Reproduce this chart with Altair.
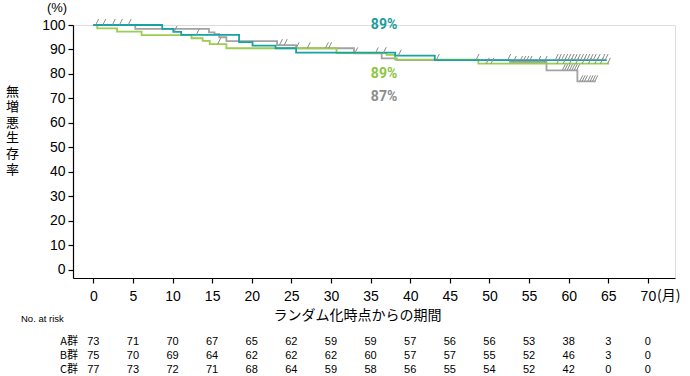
import altair as alt
import pandas as pd

# Kaplan-Meier step curves (time in months, survival %)
teal_t = [0, 8.7, 10.1, 11.1, 18.4, 20.1, 23.0, 25.6, 38.1, 43.1, 64.8]
teal_s = [100, 98.4, 97.2, 96.0, 93.0, 91.6, 90.5, 88.7, 87.5, 85.7, 85.7]
green_t = [0, 0.5, 3.0, 6.1, 12.4, 13.8, 14.7, 16.8, 30.7, 37.0, 38.1, 48.6, 65.1]
green_s = [100, 98.6, 97.3, 95.9, 94.6, 93.5, 92.2, 90.5, 88.5, 87.8, 85.9, 84.2, 84.2]
gray_t = [0, 5.3, 14.6, 15.3, 15.9, 16.8, 23.2, 25.6, 32.9, 36.4, 38.3, 52.6, 57.2, 61.1, 63.4]
gray_s = [100, 98.4, 97.0, 96.3, 95.0, 93.4, 91.8, 90.5, 88.4, 86.4, 85.7, 84.9, 81.5, 77.0, 77.0]

# censoring times
teal_c = [0.3, 1.2, 2.4, 3.3, 4.4, 10.2, 13.0, 38.5, 43.3, 48.3, 58.3, 58.7, 59.1, 59.5,
          59.9, 60.3, 60.7, 61.1, 61.5, 61.9, 62.3, 62.7, 63.1, 63.6, 64.2, 64.6]
green_c = [15.7, 29.3, 29.7, 36.6, 49.6, 50.2, 58.5, 59.3, 60.1, 60.9, 61.7, 62.5, 63.3,
           64.0, 64.9]
gray_c = [23.5, 24.1, 25.6, 27.0, 33.0, 35.6, 52.3, 53.0, 53.8, 54.2, 54.6, 55.0, 56.1,
          56.9, 59.2, 59.5, 59.8, 60.1, 60.4, 60.7, 61.0, 61.4, 61.7, 62.0, 62.4, 62.7,
          63.0, 63.3]

# final percentages
pct_labels = ["89%", "89%", "87%"]
pct_y = [100, 80, 70.6]
pct_x = 36.7

# number at risk
risk_times = [0, 5, 10, 15, 20, 25, 30, 35, 40, 45, 50, 55, 60, 65, 70]
risk_A = [73, 71, 70, 67, 65, 62, 59, 59, 57, 56, 56, 53, 38, 3, 0]
risk_B = [75, 70, 69, 64, 62, 62, 62, 60, 57, 57, 55, 52, 46, 3, 0]
risk_C = [77, 73, 72, 71, 68, 64, 59, 58, 56, 55, 54, 52, 42, 0, 0]
groups = ["A群", "B群", "C群"]

TEAL, GREEN, GRAY = "#17a2a5", "#9acd50", "#a3a3a3"
TEAL_T, GREEN_T, GRAY_T = "#1a9c9e", "#8cc63f", "#8c8c8c"
CJK = "Noto Sans CJK JP"
LAT = "Liberation Sans"

xscale = alt.Scale(domain=[-2.56, 73.42], nice=False, zero=False)
yscale = alt.Scale(domain=[-3.27, 100], nice=False, zero=False)

xaxis = alt.Axis(values=list(range(0, 75, 5)), labelFontSize=14, labelFont=LAT,
                 labelColor="black", tickSize=5, tickColor="black", domainColor="black",
                 domainWidth=1.2, tickWidth=1.2, labelPadding=6, grid=False, labelFlush=False,
                 labelOverlap=False,
                 title="ランダム化時点からの期間", titleFont=CJK, titleFontSize=14,
                 titleFontWeight="normal", titleColor="black", titleX=284, titleY=37,
                 titleBaseline="middle", titleAlign="center")
yaxis = alt.Axis(values=list(range(0, 101, 10)), labelFontSize=14, labelFont=LAT,
                 labelColor="black", tickSize=5, tickColor="black", domainColor="black",
                 domainWidth=1.2, tickWidth=1.2, labelPadding=3, grid=False,
                 labelOverlap=False, tickCount=11,
                 title=["無", "増", "悪", "生", "存", "率"], titleFont=CJK, titleFontSize=13,
                 titleFontWeight="normal", titleColor="black", titleAngle=0, titleX=-61,
                 titleY=60, titleBaseline="top", titleAlign="center", titleLineHeight=15.6)


def step_val(ts, ss, t):
    v = ss[0]
    for a, b in zip(ts, ss):
        if a <= t:
            v = b
    return v


X = alt.X("t:Q", scale=xscale, axis=xaxis)
Y = alt.Y("s:Q", scale=yscale, axis=yaxis)

curves = []
for ts, ss, col in [(gray_t, gray_s, GRAY), (green_t, green_s, GREEN), (teal_t, teal_s, TEAL)]:
    df = pd.DataFrame({"t": ts, "s": ss, "o": list(range(len(ts)))})
    curves.append(
        alt.Chart(df).mark_line(interpolate="step-after", strokeWidth=1.8, color=col, clip=False)
        .encode(x=X, y=Y, order="o:Q")
    )

cens_rows = []
for ts, ss, cs in [(gray_t, gray_s, gray_c), (green_t, green_s, green_c), (teal_t, teal_s, teal_c)]:
    for c in cs:
        cens_rows.append({"t": c, "s": step_val(ts, ss, c)})
cens = alt.Chart(pd.DataFrame(cens_rows)).mark_point(
    shape="M0,0L0.5,-1", size=144, filled=False, stroke="#8a8a8a", strokeWidth=1, opacity=1
).encode(x=X, y=Y)

pct_df = pd.DataFrame({"t": [pct_x] * 3, "s": pct_y, "lab": pct_labels,
                       "c": [TEAL_T, GREEN_T, GRAY_T]})
pct = alt.Chart(pct_df).mark_text(font="Roboto", fontSize=14, fontWeight="bold",
                                  baseline="middle", align="center").encode(
    x=X, y=Y, text="lab:N", color=alt.Color("c:N", scale=None))

pct_unit = alt.Chart(pd.DataFrame({"lab": ["(%)"]})).mark_text(
    font=LAT, fontSize=13, align="center", baseline="middle", color="black").encode(
    x=alt.value(-16), y=alt.value(-17), text="lab:N")

month = alt.Chart(pd.DataFrame({"t": [70], "lab": ["(月)"]})).mark_text(
    font=CJK, fontSize=14, align="left", baseline="middle", dx=9, color="black").encode(
    x=X, y=alt.value(270.5), text="lab:N")

main = alt.layer(*curves, cens, pct, pct_unit, month)

risk_rows = []
for g, vals in zip(groups, [risk_A, risk_B, risk_C]):
    for t, v in zip(risk_times, vals):
        risk_rows.append({"t": t, "row": g, "n": str(v)})
rowscale = alt.Scale(domain=groups, range=[316.7, 345], padding=0)
risk = alt.Chart(pd.DataFrame(risk_rows)).mark_text(
    font=LAT, fontSize=11, align="center", baseline="middle", color="black").encode(
    x=X,
    y=alt.Y("row:N", scale=rowscale, axis=None),
    text="n:N")
row_lab = alt.Chart(pd.DataFrame({"row": groups})).mark_text(
    font=CJK, fontSize=11, align="right", baseline="middle", color="black").encode(
    x=alt.value(5), y=alt.Y("row:N", scale=rowscale, axis=None), text="row:N")
header = alt.Chart(pd.DataFrame({"lab": ["No. at risk"]})).mark_text(
    font=LAT, fontSize=9.5, align="left", baseline="middle", color="black").encode(
    x=alt.value(-52), y=alt.value(294.3), text="lab:N")
table = alt.layer(risk, row_lab, header)

chart = alt.layer(main, table).resolve_scale(y="independent").properties(
    width=602, height=253,
    padding={"left": 73, "top": 25, "right": 15, "bottom": 98},
    autosize=alt.AutoSizeParams(type="none"),
).configure_view(stroke=None).configure(background="white")

chart.save("out.html", embed_options={"renderer": "svg", "actions": False})
